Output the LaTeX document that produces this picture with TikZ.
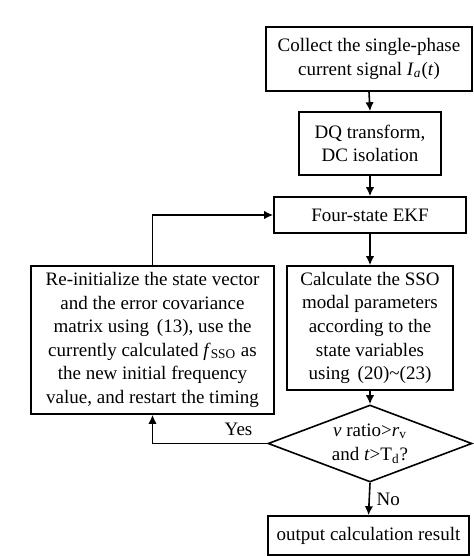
\documentclass[tikz,border=0pt]{standalone}
\usepackage{fontspec}
\setmainfont{Liberation Serif}
\usetikzlibrary{shapes.geometric,arrows.meta}
\begin{document}
\begin{tikzpicture}[x=0.5pt, y=-0.5pt, line width=0.8pt,
  every node/.style={font=\fontsize{9.5}{11.8}\selectfont},
  stepbox/.style={draw, align=center, inner sep=1pt},
  decbox/.style={draw, diamond, shape aspect=2.65, align=center, inner sep=0pt, minimum width=102pt, minimum height=38.5pt},
  flow/.style={-{Latex[length=4.5pt,width=4.2pt]}}]
\useasboundingbox (0,0) rectangle (474,556);
% main column
\node[stepbox, minimum width=103pt, minimum height=32pt] (collect) at (369,59) {Collect the single-phase\\current signal \textit{I}\textsubscript{\textit{a}}(\textit{t})};
\node[stepbox, minimum width=71pt, minimum height=31.5pt] (dq) at (370,143.5) {DQ transform,\\DC isolation};
\node[stepbox, minimum width=96pt, minimum height=18pt] (ekf) at (370,215) {Four-state EKF};
\node[stepbox, minimum width=83pt, minimum height=62pt] (calc) at (370,328) {Calculate the SSO\\modal parameters\\according to the\\state variables\\using \,(20)\textasciitilde(23)};
\node[decbox] (check) at (370,443.5) {\textit{v} ratio>\textit{r}\textsubscript{v}\\and \textit{t}>T\textsubscript{d}?};
\node[stepbox, minimum width=100.5pt, minimum height=19.5pt] (result) at (368.5,535.5) {output calculation result};
% reset branch
\node[stepbox, minimum width=121.5pt, minimum height=74pt] (reinit) at (152.5,340) {Re-initialize the state vector\\and the error covariance\\matrix using \,(13), use the\\currently calculated \textit{f}\textsubscript{SSO} as\\the new initial frequency\\value, and restart the timing};
% connectors
\draw[flow] (collect.south) -- (dq.north);
\draw[flow] (dq.south) -- (ekf.north);
\draw[flow] (ekf.south) -- (calc.north);
\draw[flow] (calc.south) -- (check.north);
\draw[flow] (check.south) -- node[right, pos=0.5] {No} (result.north);
\draw[flow] (check.west) -| node[above, pos=0.125] {Yes} (reinit.south);
\draw[flow] (reinit.north) |- (ekf.west);
\end{tikzpicture}
\end{document}
